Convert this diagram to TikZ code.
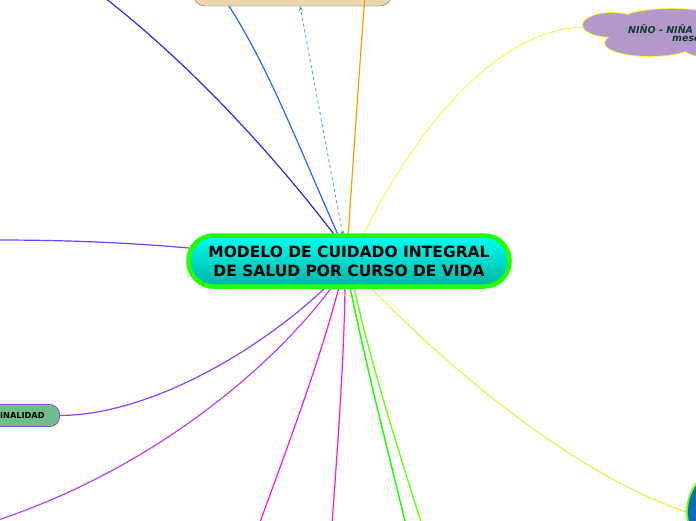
\documentclass[tikz,border=0pt]{standalone}
\usepackage{fontspec}
\usepackage{xcolor}
\usetikzlibrary{arrows.meta}
\newfontfamily\mapfont{DejaVu Sans}

\definecolor{topgreen}{HTML}{22FF00}
\definecolor{cyantop}{HTML}{00FFF2}
\definecolor{cyanbot}{HTML}{00B3A6}
\definecolor{sand}{HTML}{E8D5AC}
\definecolor{lilac}{HTML}{B398CB}
\definecolor{cloudline}{HTML}{FFEE10}
\definecolor{ninotext}{HTML}{0B3D2E}
\definecolor{finalgreen}{HTML}{6CBF88}
\definecolor{finalline}{HTML}{8A46F5}
\definecolor{circblue}{HTML}{0A6EB4}

\tikzset{
  branch/.style={line width=1.2pt},
  mainidea/.style={rounded corners=25pt, draw=topgreen, line width=4.5pt,
    top color=cyantop, bottom color=cyanbot, minimum width=321pt, minimum height=51pt,
    align=center, font=\mapfont\bfseries\fontsize{15.5}{19}\selectfont},
  ninofont/.style={font=\mapfont\bfseries\itshape\fontsize{9.5}{12}\selectfont, text=ninotext,
    anchor=north west, inner sep=0pt},
}

\begin{document}
\begin{tikzpicture}[x=1pt,y=-1pt]
    \useasboundingbox (0,0) rectangle (696,520);
    \clip (0,0) rectangle (696,520);

    % outer topics, partly off the page
    \node[draw=black!60, rounded corners=12pt, top color=sand!70, bottom color=sand,
      minimum width=199pt, minimum height=40pt] (topic) at (292.5,-14) {};
    % cloud
    \foreach \cx/\cy/\rx/\ry in {612/25/29/12, 650/43/45/13, 672/21/52/12, 715/38/40/20}
      \draw[cloudline, line width=1.6pt] (\cx,\cy) ellipse [x radius=\rx, y radius=\ry];
    \foreach \cx/\cy/\rx/\ry in {612/25/29/12, 650/43/45/13, 672/21/52/12, 715/38/40/20}
      \fill[lilac] (\cx,\cy) ellipse [x radius=\rx, y radius=\ry];
    \coordinate (nino) at (583,27);
    \node[ninofont] (ninotxt) at (628,24) {NIÑO - NIÑA};
    \node[ninofont] (mesetxt) at (672,36) {meses};
    \node[draw=finalline, line width=0.8pt, rounded corners=10pt, fill=finalgreen,
      font=\mapfont\bfseries\fontsize{8.2}{9}\selectfont, minimum height=22pt,
      inner xsep=15pt, anchor=east] (final) at (60,415.5) {FINALIDAD};
    \node[circle, draw=green!60!yellow, line width=1.8pt, fill=circblue,
      minimum size=96pt] (etapa) at (735,512) {};

    \coordinate (offA) at (60,-35);
    \coordinate (offL) at (-5,240);
    \coordinate (offB) at (-5,521);
    \coordinate (offC) at (259,525);
    \coordinate (offD) at (332,525);
    \coordinate (offE) at (406,525);
    \coordinate (offF) at (422,525);
    \coordinate (offO) at (365,-5);

    % branches
    \draw[branch, color={rgb,255:red,40;green,40;blue,240}] (336,237) .. controls (270,150) and (170,40) .. (offA);
    \draw[branch, color={rgb,255:red,40;green,100;blue,255}] (339,237) .. controls (300,150) and (270,70) .. (229,6);
    \draw[line width=0.8pt, dashed, color={rgb,255:red,80;green,150;blue,230}, {Stealth[length=5pt,width=4pt]}-{Stealth[length=5pt,width=4pt]}] (343,236) -- (300,6);
    \draw[branch, color={rgb,255:red,255;green,153;blue,0}] (348,237) .. controls (354,150) and (360,60) .. (offO);
    \draw[line width=0.9pt, color={rgb,255:red,255;green,245;blue,60}] (362,237) .. controls (420,120) and (500,30) .. (nino);
    \draw[branch, color={rgb,255:red,112;green,64;blue,255}] (189,248) .. controls (120,242) and (60,240) .. (offL);
    \draw[branch, color={rgb,255:red,150;green,60;blue,255}] (326,287) .. controls (260,350) and (150,415) .. (final.east);
    \draw[branch, color={rgb,255:red,190;green,60;blue,255}] (332,287) .. controls (270,370) and (150,470) .. (offB);
    \draw[branch, color={rgb,255:red,245;green,20;blue,235}] (339,287) .. controls (320,360) and (290,440) .. (offC);
    \draw[branch, color={rgb,255:red,255;green,25;blue,200}] (345,287) .. controls (344,360) and (338,440) .. (offD);
    \draw[line width=1.5pt, color=topgreen] (350,287) .. controls (365,360) and (385,440) .. (offE);
    \draw[line width=1.4pt, color={rgb,255:red,110;green,255;blue,20}] (354,287) .. controls (370,360) and (395,440) .. (offF);
    \draw[line width=1.1pt, color={rgb,255:red,205;green,255;blue,60}] (370,287) .. controls (470,390) and (590,480) .. (etapa.west);

    % central topic
    \node[mainidea] (modelo) at (349,261) {MODELO DE CUIDADO INTEGRAL\\DE SALUD POR CURSO DE VIDA};
\end{tikzpicture}
\end{document}
